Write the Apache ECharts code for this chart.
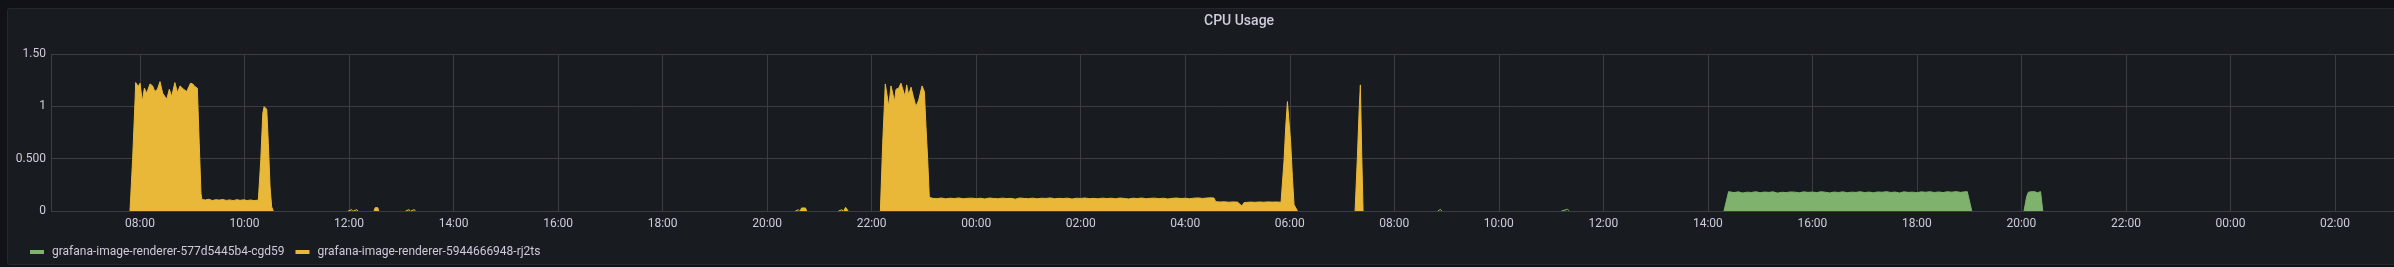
<!DOCTYPE html>
<html>
<head>
<meta charset="utf-8">
<title>CPU Usage</title>
<script src="https://cdn.jsdelivr.net/npm/echarts@6/dist/echarts.min.js"></script>
<style>
  html, body { margin: 0; padding: 0; background: #111217; }
  #chart { width: 2394px; height: 267px; }
</style>
</head>
<body>
<div id="chart"></div>
<script>
// ---------- data (times are "DD HH:mm[:ss]" in January 2023) ----------
const seriesNames = [
  'grafana-image-renderer-577d5445b4-cgd59',
  'grafana-image-renderer-5944666948-rj2ts'
];
const yTickValues = [0, 0.5, 1, 1.5];
const yTickLabels = ['0', '0.500', '1', '1.50'];
const axisStart = '10 06:17:49';
const axisEnd = '12 03:07:45';

// yellow pod: first burst, idle plateau, spike
const yellowRun1 = [
  ['10 07:48:30', 0], ['10 07:51:30', 0.49], ['10 07:54:20', 1.06], ['10 07:55', 1.227],
  ['10 07:58', 1.189], ['10 08:00', 1.221], ['10 08:02:40', 1.045], ['10 08:05', 1.173],
  ['10 08:07:40', 1.125], ['10 08:11:30', 1.214], ['10 08:14:30', 1.195], ['10 08:17', 1.141],
  ['10 08:20', 1.163], ['10 08:23', 1.236], ['10 08:26', 1.125], ['10 08:28', 1.141],
  ['10 08:30:40', 1.068], ['10 08:33:40', 1.163], ['10 08:36:20', 1.093], ['10 08:40', 1.227],
  ['10 08:43', 1.131], ['10 08:46', 1.195], ['10 08:50', 1.163], ['10 08:53:40', 1.141],
  ['10 08:58', 1.221], ['10 09:00:30', 1.214], ['10 09:03', 1.189], ['10 09:05:50', 1.173],
  ['10 09:08', 0.647], ['10 09:10', 0.17], ['10 09:11', 0.11],
  ['10 09:15', 0.105], ['10 09:19', 0.112], ['10 09:23', 0.100], ['10 09:27', 0.108],
  ['10 09:31', 0.104], ['10 09:35', 0.110], ['10 09:39', 0.101], ['10 09:43', 0.106],
  ['10 09:47', 0.099], ['10 09:51', 0.108], ['10 09:55', 0.102], ['10 09:59', 0.107],
  ['10 10:03', 0.100], ['10 10:07', 0.105], ['10 10:11', 0.099], ['10 10:15:50', 0.104],
  ['10 10:18:40', 0.49], ['10 10:21', 0.934], ['10 10:22:30', 0.997], ['10 10:25:30', 0.972],
  ['10 10:27:20', 0.647], ['10 10:29:20', 0.23], ['10 10:31:10', 0.04], ['10 10:33', 0]
];

// yellow pod: tiny blips
const yellowBlips = [
  [['10 11:59', 0], ['10 12:00', 0.013], ['10 12:03', 0.013], ['10 12:04', 0]],
  [['10 12:05', 0], ['10 12:06', 0.013], ['10 12:09', 0.013], ['10 12:10', 0]],
  [['10 12:28:40', 0], ['10 12:30', 0.032], ['10 12:33', 0.032], ['10 12:34', 0]],
  [['10 13:05', 0], ['10 13:06', 0.013], ['10 13:09', 0.013], ['10 13:10', 0]],
  [['10 13:11', 0], ['10 13:12', 0.013], ['10 13:15', 0.013], ['10 13:16', 0]],
  [['10 20:32:30', 0], ['10 20:33:30', 0.012], ['10 20:36', 0.012], ['10 20:37', 0]],
  [['10 20:38', 0], ['10 20:39:30', 0.029], ['10 20:44', 0.029], ['10 20:45:20', 0]],
  [['10 21:22', 0], ['10 21:23', 0.012], ['10 21:26', 0.012], ['10 21:27', 0]],
  [['10 21:28', 0], ['10 21:29', 0.012], ['10 21:30', 0.035], ['10 21:32', 0.035], ['10 21:33', 0]]
];

// yellow pod: second burst, long idle plateau, spike before 06:00
const yellowRun2 = [
  ['10 22:10', 0], ['10 22:12:40', 0.647], ['10 22:15:40', 1.214], ['10 22:17:40', 1.205],
  ['10 22:19:40', 0.997], ['10 22:22:10', 1.195], ['10 22:24:10', 1.125], ['10 22:26:10', 1.045],
  ['10 22:28', 1.163], ['10 22:31', 1.173], ['10 22:33:40', 1.221], ['10 22:35:40', 1.205],
  ['10 22:38:20', 1.093], ['10 22:40:10', 1.205], ['10 22:42:30', 1.109], ['10 22:45:10', 1.183],
  ['10 22:47:50', 1.093], ['10 22:50:50', 0.997], ['10 22:54', 1.06], ['10 22:57:50', 1.195],
  ['10 23:00:30', 1.141], ['10 23:02:20', 0.81], ['10 23:04:20', 0.49], ['10 23:06:10', 0.131],
  ['10 23:10', 0.121], ['10 23:15', 0.118], ['10 23:20', 0.124], ['10 23:25', 0.116], ['10 23:30', 0.122],
  ['10 23:35', 0.119], ['10 23:40', 0.125], ['10 23:45', 0.117], ['10 23:50', 0.121], ['10 23:55', 0.123],
  ['11 00:00', 0.118], ['11 00:05', 0.122], ['11 00:10', 0.115], ['11 00:15', 0.124], ['11 00:20', 0.120],
  ['11 00:25', 0.117], ['11 00:30', 0.123], ['11 00:35', 0.119], ['11 00:40', 0.121], ['11 00:45', 0.113],
  ['11 00:50', 0.124], ['11 00:55', 0.120], ['11 01:00', 0.118], ['11 01:05', 0.123], ['11 01:10', 0.116],
  ['11 01:15', 0.122], ['11 01:20', 0.120], ['11 01:25', 0.125], ['11 01:30', 0.117], ['11 01:35', 0.121],
  ['11 01:40', 0.119], ['11 01:45', 0.123], ['11 01:50', 0.114], ['11 01:55', 0.122], ['11 02:00', 0.120],
  ['11 02:05', 0.124], ['11 02:10', 0.118], ['11 02:15', 0.121], ['11 02:20', 0.116], ['11 02:25', 0.123],
  ['11 02:30', 0.119], ['11 02:35', 0.122], ['11 02:40', 0.117], ['11 02:45', 0.124], ['11 02:50', 0.120],
  ['11 02:55', 0.115], ['11 03:00', 0.122], ['11 03:05', 0.119], ['11 03:10', 0.124], ['11 03:15', 0.117],
  ['11 03:20', 0.121], ['11 03:25', 0.123], ['11 03:30', 0.118], ['11 03:35', 0.122], ['11 03:40', 0.115],
  ['11 03:45', 0.121], ['11 03:50', 0.124], ['11 03:55', 0.119], ['11 04:00', 0.122], ['11 04:05', 0.117],
  ['11 04:10', 0.123], ['11 04:15', 0.125], ['11 04:20', 0.120], ['11 04:25', 0.124], ['11 04:30', 0.126],
  ['11 04:33', 0.124], ['11 04:35', 0.089], ['11 04:40', 0.086], ['11 04:45', 0.088], ['11 04:50', 0.084],
  ['11 04:55', 0.087], ['11 05:00', 0.085], ['11 05:02', 0.083], ['11 05:05', 0.048], ['11 05:07:30', 0.080],
  ['11 05:10', 0.082], ['11 05:15', 0.085], ['11 05:20', 0.083], ['11 05:25', 0.086], ['11 05:30', 0.084],
  ['11 05:35', 0.087], ['11 05:40', 0.085], ['11 05:45', 0.086], ['11 05:50', 0.084], ['11 05:51:30', 0.083],
  ['11 05:53:30', 0.49], ['11 05:55:25', 0.81], ['11 05:57:20', 1.045], ['11 05:59:10', 1.03],
  ['11 06:01:05', 0.65], ['11 06:03', 0.33], ['11 06:04:55', 0.06], ['11 06:08:50', 0]
];

// yellow pod: sharp spike after 07:00
const yellowSpike = [
  ['11 07:15', 0], ['11 07:17:40', 0.52], ['11 07:19:40', 0.966], ['11 07:21:05', 1.205],
  ['11 07:22:35', 0.55], ['11 07:24:10', 0]
];

// green pod: tiny blips
const greenBlips = [
  [['11 08:50', 0], ['11 08:51:30', 0.016], ['11 08:53', 0.016], ['11 08:54:30', 0]],
  [['11 11:12', 0], ['11 11:14', 0.016], ['11 11:19', 0.016], ['11 11:21', 0]]
];

// green pod: long plateau in the afternoon
const greenRun1 = [
  ['11 14:18:30', 0], ['11 14:23:50', 0.185],
  ['11 14:25', 0.182], ['11 14:30', 0.176], ['11 14:35', 0.183], ['11 14:40', 0.172], ['11 14:45', 0.180],
  ['11 14:50', 0.177], ['11 14:55', 0.184], ['11 15:00', 0.175], ['11 15:05', 0.181], ['11 15:10', 0.178],
  ['11 15:15', 0.183], ['11 15:20', 0.171], ['11 15:25', 0.179], ['11 15:30', 0.176], ['11 15:35', 0.182],
  ['11 15:40', 0.180], ['11 15:45', 0.174], ['11 15:50', 0.183], ['11 15:55', 0.178], ['11 16:00', 0.181],
  ['11 16:05', 0.176], ['11 16:10', 0.184], ['11 16:15', 0.179], ['11 16:20', 0.173], ['11 16:25', 0.181],
  ['11 16:30', 0.177], ['11 16:35', 0.183], ['11 16:40', 0.175], ['11 16:45', 0.180], ['11 16:50', 0.178],
  ['11 16:55', 0.184], ['11 17:00', 0.176], ['11 17:05', 0.181], ['11 17:10', 0.174], ['11 17:15', 0.182],
  ['11 17:20', 0.179], ['11 17:25', 0.185], ['11 17:30', 0.177], ['11 17:35', 0.181], ['11 17:40', 0.172],
  ['11 17:45', 0.183], ['11 17:50', 0.178], ['11 17:55', 0.180], ['11 18:00', 0.175], ['11 18:05', 0.183],
  ['11 18:10', 0.179], ['11 18:15', 0.184], ['11 18:20', 0.177], ['11 18:25', 0.182], ['11 18:30', 0.176],
  ['11 18:35', 0.184], ['11 18:40', 0.180], ['11 18:45', 0.185], ['11 18:50', 0.178], ['11 18:55', 0.183],
  ['11 18:57:50', 0.185], ['11 19:03', 0]
];

// green pod: short burst after 20:00
const greenRun2 = [
  ['11 20:03', 0], ['11 20:06', 0.137], ['11 20:08', 0.180], ['11 20:12', 0.185],
  ['11 20:15:40', 0.183], ['11 20:18:20', 0.175], ['11 20:22', 0.185], ['11 20:24:30', 0]
];

// ---------- helpers ----------
function toTime(s) {
  const parts = s.split(' ');
  const hms = parts[1].split(':').map(Number);
  return new Date(2023, 0, Number(parts[0]), hms[0], hms[1], hms[2] || 0).getTime();
}
function joinSegments(segments) {
  const out = [];
  segments.forEach(function (seg, i) {
    if (i > 0) out.push([toTime(seg[0][0]) - 1000, null]);
    seg.forEach(function (p) { out.push([toTime(p[0]), p[1]]); });
  });
  return out;
}

const greenData = joinSegments([greenBlips[0], greenBlips[1], greenRun1, greenRun2]);
const yellowData = joinSegments([yellowRun1].concat(yellowBlips, [yellowRun2, yellowSpike]));

const FONT = 'Roboto, "Noto Sans", sans-serif';
const TEXT = '#ccccdc';
const GRID = '#3b3d42';
const HOUR = 3600 * 1000;

const chart = echarts.init(document.getElementById('chart'), null, { renderer: 'canvas' });
chart.setOption({
  animation: false,
  backgroundColor: '#111217',
  textStyle: { fontFamily: FONT },
  graphic: [{
    type: 'rect', z: -10, silent: true,
    shape: { x: 7.5, y: 8.5, width: 2400, height: 256, r: 2 },
    style: { fill: '#181b1f', stroke: '#25272c', lineWidth: 1 }
  }],
  title: {
    text: 'CPU Usage',
    left: 1204, top: 14, padding: 0,
    textStyle: { color: TEXT, fontSize: 14, fontWeight: 500, fontFamily: FONT }
  },
  legend: {
    data: seriesNames,
    left: 25, top: 241,
    icon: 'rect', itemWidth: 14, itemHeight: 4, itemGap: 11,
    textStyle: { color: TEXT, fontSize: 12, fontFamily: FONT, padding: [0, 0, 0, 3] }
  },
  grid: { left: 51, right: 0, top: 54, bottom: 56, containLabel: false },
  xAxis: {
    type: 'time',
    min: toTime(axisStart),
    max: toTime(axisEnd),
    minInterval: 2.5 * HOUR,
    maxInterval: 3 * HOUR,
    splitNumber: 18,
    axisLine: { show: false },
    axisTick: { show: false },
    axisLabel: {
      color: TEXT, fontSize: 12, fontFamily: FONT, margin: 7,
      formatter: '{HH}:{mm}', hideOverlap: false
    },
    splitLine: { show: true, lineStyle: { color: GRID, width: 1 } }
  },
  yAxis: {
    type: 'value',
    min: yTickValues[0], max: yTickValues[yTickValues.length - 1], interval: 0.5,
    axisLine: { show: false },
    axisTick: { show: false },
    axisLabel: {
      color: TEXT, fontSize: 12, fontFamily: FONT, margin: 5,
      formatter: function (v) {
        const i = yTickValues.indexOf(v);
        return i >= 0 ? yTickLabels[i] : '';
      }
    },
    splitLine: { show: true, lineStyle: { color: GRID, width: 1 } }
  },
  series: [
    {
      name: seriesNames[0], type: 'line', data: greenData,
      showSymbol: false, connectNulls: false, sampling: null,
      lineStyle: { color: '#7eb26d', width: 1 },
      itemStyle: { color: '#7eb26d' },
      areaStyle: { color: '#7eb26d', opacity: 1 }
    },
    {
      name: seriesNames[1], type: 'line', data: yellowData,
      showSymbol: false, connectNulls: false, sampling: null,
      lineStyle: { color: '#eab839', width: 1 },
      itemStyle: { color: '#eab839' },
      areaStyle: { color: '#eab839', opacity: 1 }
    }
  ]
});
</script>
</body>
</html>
